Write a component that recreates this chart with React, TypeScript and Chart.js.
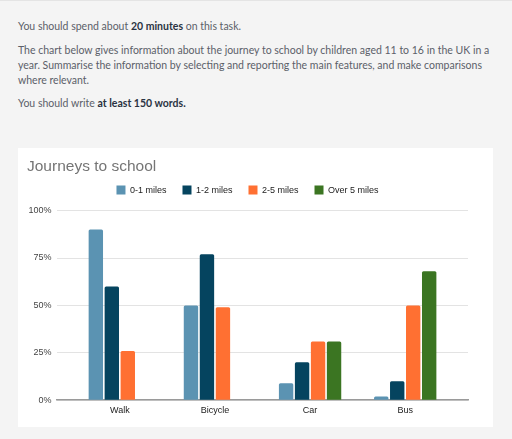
import React, { useEffect, useRef } from 'react';
import { Chart, registerables } from 'chart.js';

Chart.register(...registerables);

const categories = ['Walk', 'Bicycle', 'Car', 'Bus'];
const seriesLabels = ['0-1 miles', '1-2 miles', '2-5 miles', 'Over 5 miles'];
const miles0to1 = [90, 50, 9, 2];
const miles1to2 = [60, 77, 20, 10];
const miles2to5 = [26, 49, 31, 50];
const milesOver5 = [0, 0, 31, 68];
const yTicks = [0, 25, 50, 75, 100];
const seriesColors = ['#5b93b2', '#05445f', '#ff7032', '#3b7522'];

const seriesValues = [miles0to1, miles1to2, miles2to5, milesOver5];

const textFont = 'Lato, "Noto Sans", sans-serif';
const chartFont = '"Liberation Sans", Arial, sans-serif';
const regular = '#5b6069';
const strong = '#2a3342';

// extends the legend block downwards so the plot starts a little lower
const legendSpacer = {
  id: 'legendSpacer',
  beforeInit(chart: any) {
    const legend = chart.legend;
    if (!legend) return;
    const origFit = legend.fit;
    legend.fit = function () {
      origFit.call(this);
      this.height += 6;
    };
  },
};

function Line({ top, children }: { top: number; children: React.ReactNode }) {
  return (
    <div
      style={{
        position: 'absolute',
        left: 18,
        top,
        whiteSpace: 'nowrap',
        lineHeight: '15px',
        fontSize: 10.5,
        fontFamily: textFont,
        color: regular,
      }}
    >
      {children}
    </div>
  );
}

export default function App() {
  const canvasRef = useRef<HTMLCanvasElement | null>(null);

  useEffect(() => {
    document.body.style.margin = '0';
    document.body.style.background = '#f4f4f4';
    const canvas = canvasRef.current;
    if (!canvas) return;
    const chart = new Chart(canvas, {
      type: 'bar',
      plugins: [legendSpacer],
      data: {
        datasets: seriesValues.map((vals, s) => ({
          label: seriesLabels[s],
          data: vals.map((v, i) => ({ x: i, y: v })),
          backgroundColor: seriesColors[s],
          borderRadius: 1.5,
          barPercentage: 0.9,
          categoryPercentage: 0.672,
        })),
      },
      options: {
        animation: false,
        responsive: true,
        maintainAspectRatio: false,
        layout: { padding: { left: 9, right: 25, top: 0, bottom: 6 } },
        plugins: {
          tooltip: { enabled: false },
          title: {
            display: true,
            text: 'Journeys to school',
            align: 'start',
            color: '#757575',
            font: { family: chartFont, size: 15.5, weight: 'normal' },
            padding: { top: 9, bottom: -6 },
          },
          legend: {
            display: true,
            position: 'top',
            labels: {
              boxWidth: 9,
              boxHeight: 9,
              padding: 16,
              color: '#222',
              font: { family: chartFont, size: 9 },
            },
          },
        },
        scales: {
          x: {
            type: 'linear',
            min: -0.66,
            max: 3.66,
            offset: false,
            grid: { display: false, drawTicks: false, offset: false },
            border: { display: true, color: '#9a9a9a', width: 1.5 },
            afterBuildTicks: (axis: any) => {
              axis.ticks = categories.map((_, i) => ({ value: i }));
            },
            ticks: {
              autoSkip: false,
              maxRotation: 0,
              padding: 5,
              color: '#222',
              font: { family: chartFont, size: 9 },
              callback: (v: any) => categories[Number(v)] ?? '',
            },
          },
          y: {
            min: 0,
            max: 100,
            afterBuildTicks: (axis: any) => {
              axis.ticks = yTicks.map((v) => ({ value: v }));
            },
            afterFit: (axis: any) => {
              axis.width -= 4;
            },
            grid: { color: '#e3e3e3', drawTicks: false },
            border: { display: false },
            ticks: {
              padding: 5.5,
              color: '#444',
              font: { family: chartFont, size: 9 },
              callback: (v: any) => `${v}%`,
            },
          },
        },
      },
    } as any);
    return () => chart.destroy();
  }, []);

  return (
    <div
      style={{
        position: 'relative',
        width: 512,
        height: 439,
        background: '#f4f4f4',
        borderTop: '1px solid #e4e4e4',
        boxSizing: 'border-box',
        overflow: 'hidden',
      }}
    >
      <Line top={18}>
        You should spend about <b style={{ color: strong }}>20 minutes</b> on this task.
      </Line>
      <Line top={42}>
        The chart below gives information about the journey to school by children aged 11 to 16 in the UK in a
      </Line>
      <Line top={57}>
        year. Summarise the information by selecting and reporting the main features, and make comparisons
      </Line>
      <Line top={72}>where relevant.</Line>
      <Line top={95}>
        You should write <b style={{ color: strong }}>at least 150 words.</b>
      </Line>
      <div
        style={{
          position: 'absolute',
          left: 18,
          top: 147,
          width: 475,
          height: 279,
          background: '#ffffff',
        }}
      >
        <canvas ref={canvasRef} />
      </div>
    </div>
  );
}
